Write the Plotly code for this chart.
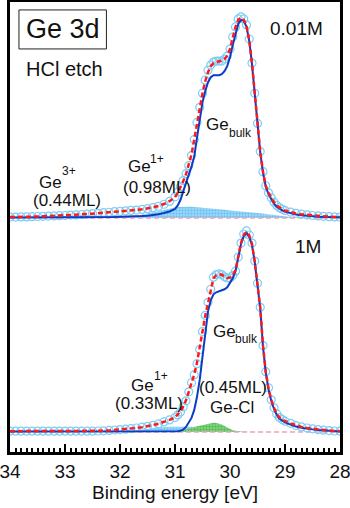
import plotly.graph_objects as go

# ---------------- data ----------------
energy = [34.0, 33.9, 33.8, 33.7, 33.6, 33.5, 33.4, 33.3, 33.2, 33.1,
          33.0, 32.9, 32.8, 32.7, 32.6, 32.5, 32.4, 32.3, 32.2, 32.1,
          32.0, 31.9, 31.8, 31.7, 31.6, 31.5, 31.4, 31.3, 31.2, 31.1, 31.0,
          30.95, 30.9, 30.85, 30.8, 30.75, 30.7, 30.65, 30.6, 30.55, 30.5,
          30.45, 30.4, 30.35, 30.3, 30.25, 30.2, 30.15, 30.1, 30.05, 30.0,
          29.95, 29.9, 29.85, 29.8, 29.75, 29.7, 29.65, 29.6, 29.55, 29.5,
          29.45, 29.4, 29.35, 29.3, 29.25, 29.2, 29.15, 29.1, 29.05, 29.0,
          28.9, 28.8, 28.7, 28.6, 28.5, 28.4, 28.3, 28.2, 28.1, 28.0]

# 0.01M panel
top_meas = [.004, .004, .005, .005, .006, .007, .008, .009, .010, .011,
            .012, .014, .015, .017, .019, .021, .023, .026, .028, .031,
            .033, .035, .037, .039, .042, .046, .051, .058, .068, .082, .105,
            .128, .155, .185, .22, .26, .31, .39, .475, .55, .62,
            .685, .735, .76, .775, .78, .78, .78, .79, .805, .84,
            .90, .95, .99, 1.0, .99, .96, .89, .77, .62, .47,
            .33, .23, .16, .125, .10, .078, .062, .051, .043, .037,
            .029, .023, .019, .015, .012, .010, .008, .006, .005, .004]
top_fit = [.004, .004, .005, .005, .006, .007, .008, .009, .010, .011,
           .012, .013, .015, .017, .019, .021, .023, .025, .028, .030,
           .033, .035, .037, .040, .043, .047, .052, .059, .069, .083, .103,
           .125, .152, .183, .218, .262, .315, .39, .47, .55, .62,
           .68, .725, .755, .77, .775, .778, .782, .79, .807, .84,
           .895, .95, .985, .995, .985, .955, .885, .77, .62, .47,
           .33, .23, .16, .124, .099, .078, .062, .051, .043, .036,
           .028, .022, .018, .015, .012, .010, .008, .006, .005, .004]
top_bulk = [.002, .002, .002, .002, .002, .002, .002, .003, .003, .003,
            .003, .003, .003, .004, .004, .004, .004, .005, .005, .005,
            .006, .006, .007, .008, .009, .011, .014, .018, .024, .032, .045,
            .062, .09, .135, .175, .215, .255, .305, .40, .50, .575,
            .63, .675, .70, .71, .71, .71, .715, .73, .755, .80,
            .86, .92, .965, .985, .98, .95, .88, .765, .615, .465,
            .325, .225, .155, .118, .092, .071, .055, .045, .037, .031,
            .023, .017, .013, .010, .008, .006, .005, .004, .003, .003]
top_ge1 = [0, 0, 0, 0, 0, 0, 0, 0, 0, 0,
           0, 0, 0, 0, 0, 0, 0, 0, 0, 0,
           0, 0, .006, .012, .018, .024, .030, .037, .043, .048, .052,
           .054, .055, .056, .056, .056, .055, .054, .053, .052, .051,
           .050, .049, .047, .046, .045, .043, .042, .040, .039, .037,
           .036, .035, .034, .032, .031, .030, .029, .027, .026, .025,
           .023, .022, .020, .018, .017, .015, .013, .012, .010, .008,
           .005, .003, .001, 0, 0, 0, 0, 0, 0, 0]
top_ge3 = [0, 0, 0, 0, 0, 0, .002, .004, .006, .008,
           .009, .010, .011, .012, .012, .012, .012, .011, .010, .009,
           .008, .006, .004, .002, 0, 0, 0, 0, 0, 0, 0,
           0, 0, 0, 0, 0, 0, 0, 0, 0, 0,
           0, 0, 0, 0, 0, 0, 0, 0, 0, 0,
           0, 0, 0, 0, 0, 0, 0, 0, 0, 0,
           0, 0, 0, 0, 0, 0, 0, 0, 0, 0,
           0, 0, 0, 0, 0, 0, 0, 0, 0, 0]

# 1M panel
bot_meas = [.004, .004, .004, .004, .004, .004, .004, .004, .004, .004,
            .004, .004, .004, .004, .004, .004, .005, .006, .008, .010,
            .012, .014, .017, .020, .024, .028, .033, .040, .050, .060, .072,
            .085, .10, .125, .155, .20, .245, .285, .34, .41, .50,
            .58, .645, .71, .77, .783, .787, .783, .772, .766, .766,
            .778, .80, .87, .94, .985, 1.0, .98, .94, .85, .74,
            .62, .43, .30, .22, .16, .12, .09, .072, .062, .054,
            .043, .032, .025, .020, .016, .012, .009, .007, .005, .004]
bot_fit = [.004, .004, .004, .004, .004, .004, .004, .004, .004, .004,
           .004, .004, .004, .004, .004, .005, .005, .006, .008, .010,
           .012, .014, .017, .020, .024, .028, .034, .041, .050, .060, .073,
           .086, .102, .127, .158, .20, .243, .287, .345, .415, .50,
           .578, .645, .708, .765, .78, .785, .782, .772, .766, .768,
           .78, .805, .868, .94, .982, .995, .978, .935, .848, .738,
           .618, .43, .30, .218, .16, .12, .09, .072, .062, .054,
           .043, .032, .025, .020, .016, .012, .009, .007, .005, .004]
bot_bulk = [.002, .002, .002, .002, .002, .002, .002, .002, .002, .002,
            .002, .002, .002, .002, .002, .002, .002, .002, .002, .002,
            .002, .002, .002, .002, .002, .002, .002, .002, .002, .002, .003,
            .004, .006, .012, .025, .045, .07, .11, .175, .26, .38,
            .51, .60, .655, .685, .695, .70, .705, .71, .72, .74,
            .765, .80, .865, .935, .975, .99, .97, .93, .845, .735,
            .615, .425, .295, .213, .155, .115, .085, .066, .056, .048,
            .037, .027, .021, .016, .013, .010, .008, .006, .004, .003]
bot_ge1 = [0, 0, 0, 0, 0, 0, 0, 0, 0, 0,
           0, 0, 0, 0, 0, 0, 0, 0, 0, 0,
           0, .003, .007, .011, .015, .018, .021, .023, .025, .026, .027,
           .027, .027, .027, .027, .026, .026, .025, .024, .024, .023,
           .022, .021, .020, .018, .017, .015, .014, .012, .010, .009,
           .007, .005, .004, .003, .002, .001, 0, 0, 0, 0,
           0, 0, 0, 0, 0, 0, 0, 0, 0, 0,
           0, 0, 0, 0, 0, 0, 0, 0, 0, 0]
bot_gecl = [0, 0, 0, 0, 0, 0, 0, 0, 0, 0,
            0, 0, 0, 0, 0, 0, 0, 0, 0, 0,
            0, 0, 0, 0, 0, 0, 0, 0, 0, 0, 0,
            .002, .004, .008, .013, .018, .022, .026, .029, .031, .034,
            .038, .042, .045, .046, .045, .042, .037, .030, .022, .015,
            .009, .005, .002, 0, 0, 0, 0, 0, 0, 0,
            0, 0, 0, 0, 0, 0, 0, 0, 0, 0,
            0, 0, 0, 0, 0, 0, 0, 0, 0, 0]

x_ticks = [34, 33, 32, 31, 30, 29, 28]

# ---------------- style ----------------
FONT = "Liberation Sans, Arial, sans-serif"
TOP_OFF = 1.065
BOT_OFF = 0.0
C_CIRC = "#7fcdf3"
C_BLUE = "#0a3cc8"
C_RED = "#ff1a1a"
C_PINK = "#f2a0b4"

fig = go.Figure()


def add_fill(vals, off, fg, bg):
    idx = [i for i, v in enumerate(vals) if v > 0]
    i0, i1 = max(idx[0] - 1, 0), min(idx[-1] + 1, len(vals) - 1)
    xs = energy[i0:i1 + 1]
    ys = [off + v for v in vals[i0:i1 + 1]]
    fig.add_trace(go.Scatter(
        x=xs + xs[::-1], y=ys + [off] * len(xs), mode="lines", fill="toself",
        line=dict(width=0, color=fg), fillcolor=bg,
        fillpattern=dict(shape=".", fgcolor=fg, bgcolor=bg, size=3, solidity=0.5),
        hoverinfo="skip", showlegend=False))


def add_panel(off, meas, fit, bulk):
    fig.add_trace(go.Scatter(x=energy, y=[off] * len(energy), mode="lines",
                             line=dict(color=C_PINK, width=1.5, dash="5px,3px"),
                             showlegend=False, hoverinfo="skip"))
    fig.add_trace(go.Scatter(x=energy, y=[off + v for v in meas], mode="markers",
                             marker=dict(symbol="circle-open", size=8, color=C_CIRC,
                                         line=dict(width=1.2, color=C_CIRC)),
                             showlegend=False))
    fig.add_trace(go.Scatter(x=energy, y=[off + v for v in bulk], mode="lines",
                             line=dict(color=C_BLUE, width=2), showlegend=False))
    fig.add_trace(go.Scatter(x=energy, y=[off + v for v in fit], mode="lines",
                             line=dict(color=C_RED, width=2.5, dash="5px,3px"),
                             showlegend=False))


add_fill(top_ge3, TOP_OFF, "#1f5fd8", "#6f9ff0")
add_fill(top_ge1, TOP_OFF, "#34aaee", "#a6dbf8")
add_fill(bot_ge1, BOT_OFF, "#34aaee", "#a6dbf8")
add_fill(bot_gecl, BOT_OFF, "#1d9e1d", "#8ad88a")
add_panel(TOP_OFF, top_meas, top_fit, top_bulk)
add_panel(BOT_OFF, bot_meas, bot_fit, bot_bulk)

ann = []


def label(text, x, y, size=17, xanchor="center"):
    ann.append(dict(text=text, x=x, y=y, xref="x", yref="y", showarrow=False,
                    xanchor=xanchor, yanchor="middle",
                    font=dict(family=FONT, size=size, color="#111")))


label("Ge 3d", 33.042, 2.0025, size=27)
label("HCl etch", 33.747, 1.8035, size=20, xanchor="left")
label("0.01M", 28.786, 2.0075, size=19)
label("1M", 28.578, 0.925, size=19)
label("Ge", 33.259, 1.241)
label("3+", 32.925, 1.296, size=12)
label("(0.44ML)", 32.961, 1.152)
label("Ge", 31.651, 1.321)
label("1+", 31.334, 1.356, size=12)
label("(0.98ML)", 31.334, 1.2140)
label("Ge", 30.232, 1.532)
label("bulk", 29.807, 1.485, size=12)
label("Ge", 30.096, 0.50)
label("bulk", 29.699, 0.4627, size=12)
label("Ge", 31.587, 0.232)
label("1+", 31.253, 0.2786, size=12)
label("(0.33ML)", 31.479, 0.1400)
label("(0.45ML)", 29.943, 0.2189)
label("Ge-Cl", 29.970, 0.1219)

fig.update_layout(
    width=350, height=508,
    margin=dict(l=10, r=10, t=2, b=56, autoexpand=False),
    paper_bgcolor="white", plot_bgcolor="white",
    font=dict(family=FONT, color="#111"),
    showlegend=False,
    annotations=ann,
    shapes=[dict(type="rect", xref="x", yref="y", x0=33.837, x1=32.247,
                 y0=1.9055, y1=2.0995, line=dict(color="#222", width=1))],
    xaxis=dict(range=[34, 28], tickvals=x_ticks, ticks="inside", ticklen=8,
               tickwidth=2, tickcolor="black", showline=True, linewidth=3,
               linecolor="black", mirror=True, showgrid=False, zeroline=False,
               automargin=False, ticklabeloverflow="allow",
               tickfont=dict(family=FONT, size=19, color="#111"),
               minor=dict(dtick=0.1, tick0=28, ticks="inside", ticklen=4,
                          tickwidth=1.5, tickcolor="black", showgrid=False),
               title=dict(text="Binding energy [eV]", standoff=2,
                          font=dict(family=FONT, size=19, color="#111"))),
    yaxis=dict(range=[-0.0995, 2.139], showticklabels=False, ticks="",
               showline=True, linewidth=3, linecolor="black", mirror=True,
               showgrid=False, zeroline=False, automargin=False),
)

fig.write_html(
    "out.html",
    config={"displayModeBar": False},
    post_script="document.body.style.margin='0';document.body.style.padding='0';"
                "document.documentElement.style.overflow='hidden';",
)
